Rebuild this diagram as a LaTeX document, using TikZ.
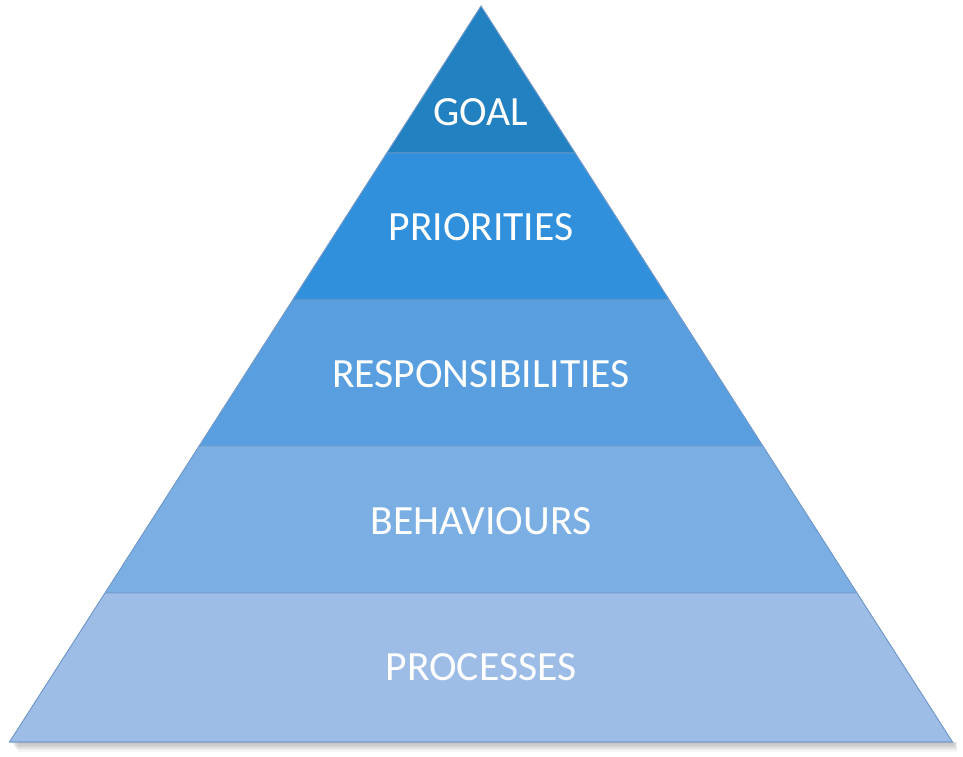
\documentclass[tikz,border=0pt]{standalone}
\usepackage{fontspec}
\setmainfont{Carlito}
\usetikzlibrary{positioning}

\definecolor{goalblue}{HTML}{2281C0}
\definecolor{prioblue}{HTML}{3190DB}
\definecolor{respblue}{HTML}{599FDF}
\definecolor{behblue}{HTML}{7BAFE3}
\definecolor{procblue}{HTML}{9DBDE6}
\definecolor{edgeblue}{HTML}{4F81BD}

\begin{document}
\begin{tikzpicture}[x=1pt, y=-1pt,
    tier/.style={draw=edgeblue!80, line width=0.7pt, line join=miter},
    tiertext/.style={text=white, font=\fontsize{41.6}{45}\selectfont, inner sep=0pt}
]
\useasboundingbox (0,0) rectangle (963,757);

% Shadow under the base
\foreach \d in {1,...,8}
  \fill[black, opacity=0.035] (9.5+\d,742) rectangle (952.5+\d*0.6,742+\d*1.2);

% Layers, top to bottom
\fill[tier, fill=goalblue] (481,6) -- (575.2,153) -- (386.8,153) -- cycle;
\fill[tier, fill=prioblue] (386.8,153) -- (575.2,153) -- (669.3,300) -- (292.7,300) -- cycle;
\fill[tier, fill=respblue] (292.7,300) -- (669.3,300) -- (762.9,446) -- (199.1,446) -- cycle;
\fill[tier, fill=behblue] (199.1,446) -- (762.9,446) -- (857,593) -- (105,593) -- cycle;
\fill[tier, fill=procblue] (105,593) -- (857,593) -- (952.5,742) -- (9.5,742) -- cycle;
\draw[tier] (481,6) -- (952.5,742) -- (9.5,742) -- cycle;

% Labels
\node[tiertext] (goal) at (481,112) {GOAL};
\node[tiertext] (prio) at (481,227) {PRIORITIES};
\node[tiertext] (resp) at (481,374) {RESPONSIBILITIES};
\node[tiertext] (beh) at (481,521) {BEHAVIOURS};
\node[tiertext] (proc) at (481,667) {PROCESSES};
\end{tikzpicture}
\end{document}
